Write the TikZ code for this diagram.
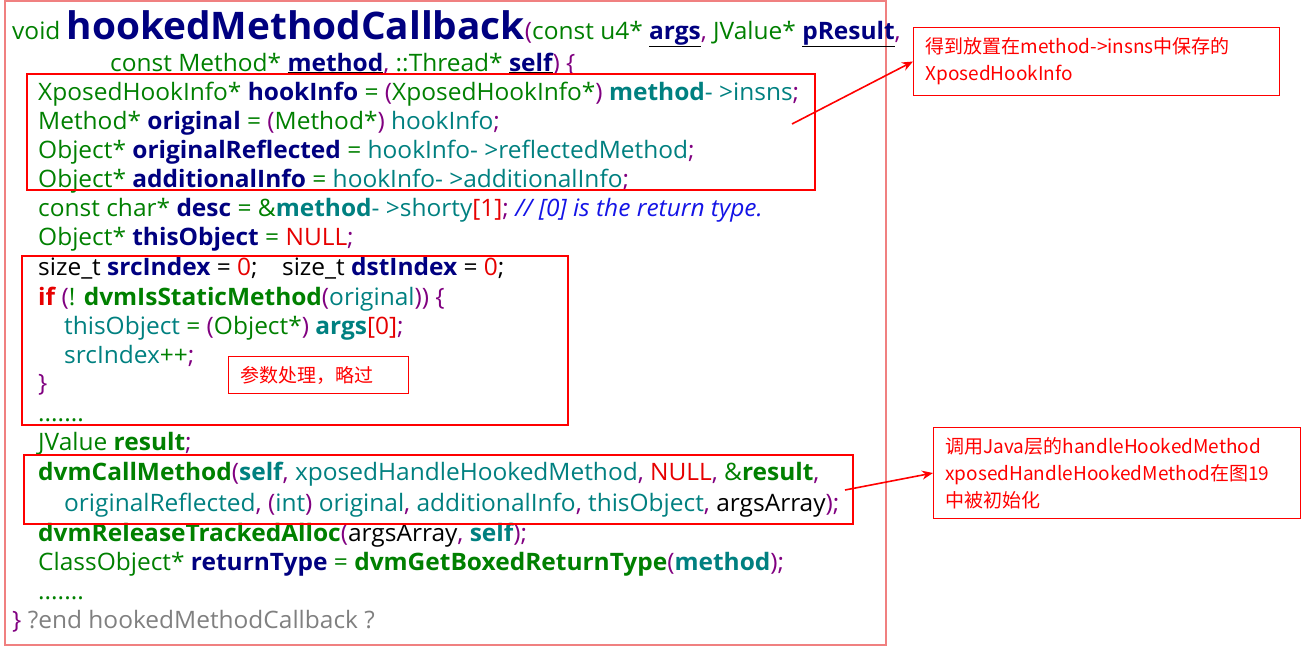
\documentclass[tikz,border=0pt]{standalone}
\usepackage{fontspec}
\usetikzlibrary{arrows.meta}
\setmainfont{Open Sans}
\newfontfamily\cjk{Noto Sans CJK SC}
\definecolor{cg}{RGB}{0,128,0}
\definecolor{cn}{RGB}{0,0,128}
\definecolor{ct}{RGB}{0,128,128}
\definecolor{cp}{RGB}{128,0,128}
\definecolor{cr}{RGB}{230,0,0}
\definecolor{cgr}{RGB}{128,128,128}
\definecolor{cb}{RGB}{20,20,230}
\definecolor{pinkred}{RGB}{240,128,128}
\newcommand\G[1]{\textcolor{cg}{#1}}
\newcommand\N[1]{\textcolor{cn}{\bfseries #1}}
\newcommand\T[1]{\textcolor{ct}{#1}}
\newcommand\TB[1]{\textcolor{ct}{\bfseries #1}}
\newcommand\GB[1]{\textcolor{cg}{\bfseries #1}}
\newcommand\PP[1]{\textcolor{cp}{#1}}
\newcommand\R[1]{\textcolor{cr}{#1}}
\begin{document}
\begin{tikzpicture}[x=1pt,y=-1pt,
  code/.style={anchor=base west,inner sep=0pt,font=\fontsize{24}{24}\selectfont,xscale=1.02},
  hl/.style={draw=red,line width=1.6pt},
  note/.style={draw=red,line width=1pt,anchor=north west,text=red,align=left,inner xsep=12pt,inner ysep=8pt,font=\cjk\fontsize{19}{27}\selectfont},
  arr/.style={red,line width=1.6pt,-{Stealth[length=11pt,width=9pt]}}]
\useasboundingbox (0,0) rectangle (1308,651);
\draw[pinkred,line width=1.6pt] (5,1) rectangle (886,645);
\node[code] (l1) at (12,39) {\G{void} \N{\fontsize{38}{38}\selectfont hookedMethodCallback}\PP{(}\G{const u4*} \underline{\N{args}}\PP{,} \G{JValue*} \underline{\N{pResult}}\PP{,}};
\node[code] (l2) at (110,71) {\G{const Method*} \underline{\N{method}}\PP{,} \G{::Thread*} \underline{\N{self}}\PP{) \{}};
\node[code] (l3) at (38,100) {\G{XposedHookInfo*} \N{hookInfo} \G{=} \PP{(}\G{XposedHookInfo*}\PP{)} \TB{method}\T{- >insns}\PP{;}};
\node[code] (l4) at (38,129) {\G{Method*} \N{original} \G{=} \PP{(}\G{Method*}\PP{)} \T{hookInfo}\PP{;}};
\node[code] (l5) at (38,158) {\G{Object*} \N{originalReflected} \G{=} \T{hookInfo- >reflectedMethod}\PP{;}};
\node[code] (l6) at (38,187) {\G{Object*} \N{additionalInfo} \G{=} \T{hookInfo- >additionalInfo}\PP{;}};
\node[code] (l7) at (38,216) {\G{const char*} \N{desc} \G{= \&}\TB{method}\T{- >shorty}\R{[1]}\PP{;} \textcolor{cb}{\itshape // [0] is the return type.}};
\node[code] (l8) at (38,245) {\G{Object*} \N{thisObject} \G{=} \R{NULL}\PP{;}};
\node[code] (l9) at (38,275) {size\_t \N{srcIndex} = \R{0};\quad size\_t \N{dstIndex} = \R{0};};
\node[code] (l10) at (38,305) {\R{\bfseries if} \PP{(}\G{!} \GB{dvmIsStaticMethod}\PP{(}\T{original}\PP{)) \{}};
\node[code] (l11) at (64,334) {\T{thisObject} \G{=} \PP{(}\G{Object*}\PP{)} \TB{args}\R{[0]}\PP{;}};
\node[code] (l12) at (64,363) {\T{srcIndex}\G{++}\PP{;}};
\node[code] (l13) at (38,391) {\PP{\}}};
\node[code] (l14) at (38,421) {\G{.......}};
\node[code] (l15) at (38,450) {\G{JValue} \GB{result}\PP{;}};
\node[code] (l16) at (38,480) {\GB{dvmCallMethod}\PP{(}\TB{self}\PP{,} \T{xposedHandleHookedMethod}\PP{,} \R{NULL}\PP{,} \G{\&}\GB{result}\PP{,}};
\node[code] (l17) at (64,511) {\T{originalReflected}\PP{, (}\T{int}\PP{)} \T{original}\PP{,} \T{additionalInfo}\PP{,} \T{thisObject}\PP{,} argsArray\PP{);}};
\node[code] (l18) at (38,541) {\GB{dvmReleaseTrackedAlloc}\PP{(}argsArray\PP{,} \TB{self}\PP{);}};
\node[code] (l19) at (38,570) {\G{ClassObject*} \N{returnType} \G{=} \GB{dvmGetBoxedReturnType}\PP{(}\TB{method}\PP{);}};
\node[code] (l20) at (38,599) {\G{.......}};
\node[code] (l21) at (12,628) {\PP{\}} \textcolor{cgr}{?end hookedMethodCallback ?}};
\draw[hl] (27,74) rectangle (815,190);
\draw[hl] (22,256) rectangle (568,425);
\draw[hl] (24,455) rectangle (853,524);
\node[note,text width=342pt,minimum height=68pt] (n1) at (913,27) {得到放置在method->insns中保存的\\XposedHookInfo};
\node[note,text width=343pt,minimum height=91pt] (n2) at (933,427) {调用Java层的handleHookedMethod\\xposedHandleHookedMethod在图19\\中被初始化};
\node[note,text width=156pt,minimum height=37pt,inner ysep=4pt] (n3) at (228,356) {参数处理，略过};
\coordinate (a1) at (792,124);
\coordinate (a2) at (845,490);
\draw[arr] (a1) -- (n1.west);
\draw[arr] (a2) -- ([yshift=-46pt]n2.north west);
\end{tikzpicture}
\end{document}
